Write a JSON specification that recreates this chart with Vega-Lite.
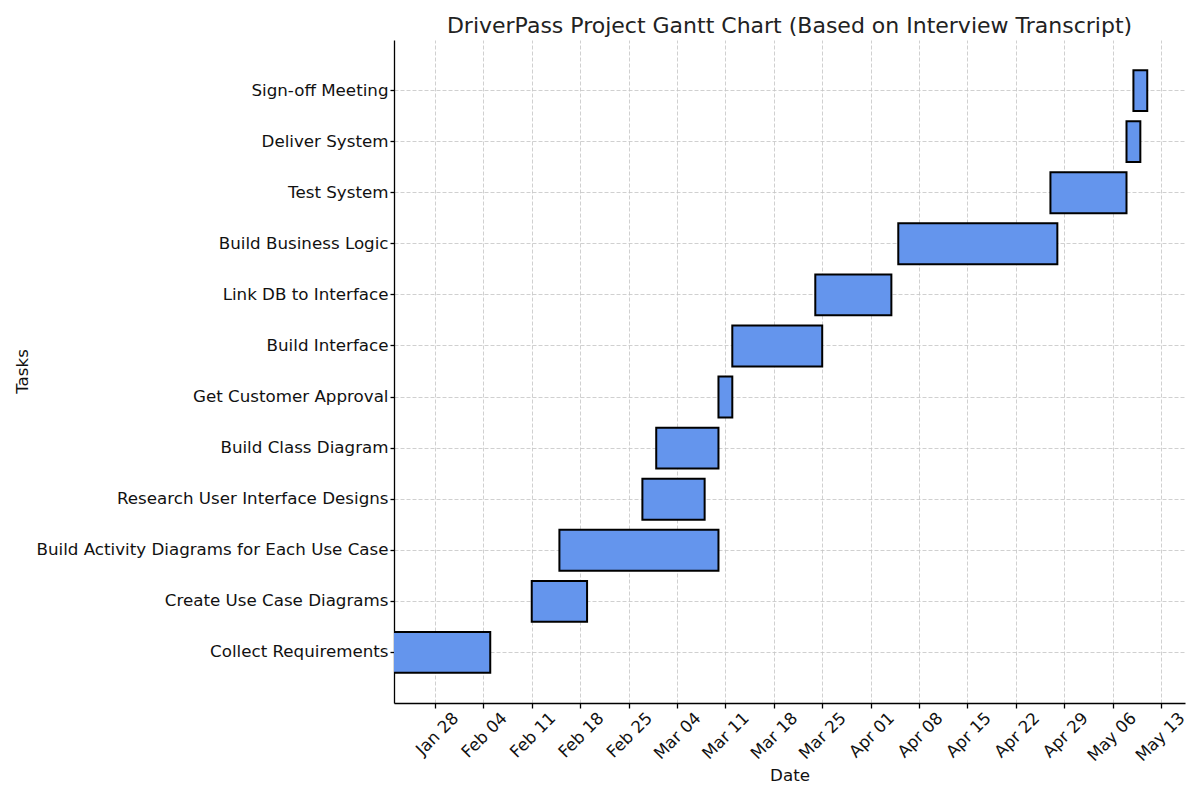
{
  "$schema": "https://vega.github.io/schema/vega-lite/v6.json",
  "autosize": {"type": "none"},
  "padding": {"left": 394, "top": 40, "right": 15, "bottom": 97},
  "width": 791,
  "height": 663,
  "background": "white",
  "title": {
    "text": "DriverPass Project Gantt Chart (Based on Interview Transcript)",
    "font": "DejaVu Sans",
    "fontSize": 22,
    "fontWeight": "normal",
    "color": "#222222",
    "anchor": "middle",
    "offset": 2
  },
  "config": {
    "view": {"stroke": null},
    "axis": {
      "labelFont": "DejaVu Sans",
      "titleFont": "DejaVu Sans",
      "labelFontSize": 16.7,
      "titleFontSize": 16.7,
      "titleFontWeight": "normal",
      "labelColor": "#111111",
      "titleColor": "#111111",
      "domainColor": "#000000",
      "domainWidth": 1.3,
      "tickColor": "#000000",
      "tickWidth": 1.3,
      "tickSize": 4,
      "labelPadding": 2,
      "labelOverlap": false,
      "grid": true,
      "gridColor": "#c4c4c4",
      "gridDash": [4, 2],
      "gridWidth": 0.8
    }
  },
  "data": {
    "values": [
      {"task": "Collect Requirements", "start": "2025-01-21", "end": "2025-02-05"},
      {"task": "Create Use Case Diagrams", "start": "2025-02-11", "end": "2025-02-19"},
      {"task": "Build Activity Diagrams for Each Use Case", "start": "2025-02-15", "end": "2025-03-10"},
      {"task": "Research User Interface Designs", "start": "2025-02-27", "end": "2025-03-08"},
      {"task": "Build Class Diagram", "start": "2025-03-01", "end": "2025-03-10"},
      {"task": "Get Customer Approval", "start": "2025-03-10", "end": "2025-03-12"},
      {"task": "Build Interface", "start": "2025-03-12", "end": "2025-03-25"},
      {"task": "Link DB to Interface", "start": "2025-03-24", "end": "2025-04-04"},
      {"task": "Build Business Logic", "start": "2025-04-05", "end": "2025-04-28"},
      {"task": "Test System", "start": "2025-04-27", "end": "2025-05-08"},
      {"task": "Deliver System", "start": "2025-05-08", "end": "2025-05-10"},
      {"task": "Sign-off Meeting", "start": "2025-05-09", "end": "2025-05-11"}
    ]
  },
  "mark": {"type": "bar", "color": "#6495ED", "stroke": "#000000", "strokeWidth": 2, "clip": true},
  "encoding": {
    "y": {
      "field": "task",
      "type": "nominal",
      "sort": ["Sign-off Meeting", "Deliver System", "Test System", "Build Business Logic", "Link DB to Interface", "Build Interface", "Get Customer Approval", "Build Class Diagram", "Research User Interface Designs", "Build Activity Diagrams for Each Use Case", "Create Use Case Diagrams", "Collect Requirements"],
      "scale": {"paddingInner": 0.2, "paddingOuter": 0.59},
      "axis": {"title": "Tasks", "titleX": -372, "titleY": 331, "titleAngle": -90, "titleBaseline": "middle", "titleAlign": "center", "labelLimit": 600}
    },
    "x": {
      "field": "start",
      "type": "temporal",
      "scale": {
        "type": "utc",
        "domain": [
          {"year": 2025, "month": 1, "date": 22, "hours": 2, "utc": true},
          {"year": 2025, "month": 5, "date": 16, "hours": 11, "utc": true}
        ]
      },
      "axis": {
        "title": "Date",
        "titleY": 72,
        "titleBaseline": "middle",
        "format": "%b %d",
        "labelAngle": -45,
        "labelAlign": "right",
        "labelBaseline": "top",
        "labelOffset": 15,
        "labelPadding": 1.5,
        "tickSize": 5,
        "values": [
          {"year": 2025, "month": 1, "date": 28, "utc": true},
          {"year": 2025, "month": 2, "date": 4, "utc": true},
          {"year": 2025, "month": 2, "date": 11, "utc": true},
          {"year": 2025, "month": 2, "date": 18, "utc": true},
          {"year": 2025, "month": 2, "date": 25, "utc": true},
          {"year": 2025, "month": 3, "date": 4, "utc": true},
          {"year": 2025, "month": 3, "date": 11, "utc": true},
          {"year": 2025, "month": 3, "date": 18, "utc": true},
          {"year": 2025, "month": 3, "date": 25, "utc": true},
          {"year": 2025, "month": 4, "date": 1, "utc": true},
          {"year": 2025, "month": 4, "date": 8, "utc": true},
          {"year": 2025, "month": 4, "date": 15, "utc": true},
          {"year": 2025, "month": 4, "date": 22, "utc": true},
          {"year": 2025, "month": 4, "date": 29, "utc": true},
          {"year": 2025, "month": 5, "date": 6, "utc": true},
          {"year": 2025, "month": 5, "date": 13, "utc": true}
        ]
      }
    },
    "x2": {"field": "end"}
  }
}
